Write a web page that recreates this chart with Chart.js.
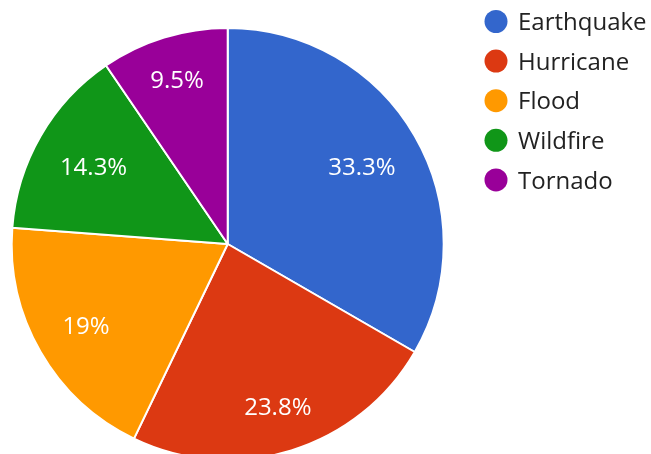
<!DOCTYPE html>
<html>
<head>
<meta charset="utf-8">
<script src="https://cdn.jsdelivr.net/npm/chart.js@4"></script>
<style>
  html, body { margin: 0; padding: 0; background: #fff; overflow: hidden; }
  #wrap { position: relative; width: 651px; height: 488px; }
</style>
</head>
<body>
<div id="wrap"><canvas id="pie"></canvas></div>
<script>
// ── Data ─────────────────────────────────────────
const labels = ['Earthquake', 'Hurricane', 'Flood', 'Wildfire', 'Tornado'];
const values = [7, 5, 4, 3, 2];
const colors = ['#3366cc', '#dc3912', '#ff9900', '#109618', '#990099'];

const FONT = '"Open Sans", "Noto Sans", sans-serif';
const total = values.reduce((a, b) => a + b, 0);
const fmtPct = (v) => parseFloat(((v / total) * 100).toFixed(1)) + '%';

// ── Slice labels: pushed outward until the text box reaches ~87% of radius
const sliceLabels = {
  id: 'sliceLabels',
  afterDatasetsDraw(chart) {
    const { ctx } = chart;
    const meta = chart.getDatasetMeta(0);
    ctx.save();
    ctx.font = '24px ' + FONT;
    ctx.fillStyle = '#ffffff';
    ctx.textAlign = 'center';
    ctx.textBaseline = 'alphabetic';
    meta.data.forEach((arc, i) => {
      const { x, y, startAngle, endAngle, outerRadius } = arc.getProps(['x', 'y', 'startAngle', 'endAngle', 'outerRadius'], true);
      const mid = (startAngle + endAngle) / 2;
      const dx = Math.cos(mid), dy = Math.sin(mid);
      const text = fmtPct(values[i]);
      const w = ctx.measureText(text).width;
      const h = 18;
      const d = outerRadius * 0.873 - (w / 2) * Math.abs(dx) - (h / 2) * Math.abs(dy);
      ctx.fillText(text, x + dx * d, y + dy * d + 8.6);
    });
    ctx.restore();
  },
};

// ── Legend at top right, circle markers ──────────
const sideLegend = {
  id: 'sideLegend',
  afterDraw(chart) {
    const { ctx } = chart;
    ctx.save();
    ctx.font = '24px ' + FONT;
    ctx.textBaseline = 'alphabetic';
    ctx.textAlign = 'left';
    labels.forEach((lab, i) => {
      const cy = 21.5 + i * 39.6;
      ctx.fillStyle = colors[i];
      ctx.beginPath();
      ctx.arc(496, cy, 11.5, 0, Math.PI * 2);
      ctx.fill();
      ctx.fillStyle = '#222222';
      ctx.fillText(lab, 518, cy + 8.6);
    });
    ctx.restore();
  },
};

new Chart(document.getElementById('pie').getContext('2d'), {
  type: 'pie',
  data: {
    labels,
    datasets: [{
      data: values,
      backgroundColor: colors,
      borderColor: '#ffffff',
      borderWidth: 2,
      radius: 216,
    }],
  },
  options: {
    responsive: true,
    maintainAspectRatio: false,
    animation: false,
    layout: { padding: { left: 0, right: 195.6, top: 0, bottom: 0 } },
    plugins: {
      legend: { display: false },
      tooltip: { enabled: false },
    },
  },
  plugins: [sliceLabels, sideLegend],
});
</script>
</body>
</html>
